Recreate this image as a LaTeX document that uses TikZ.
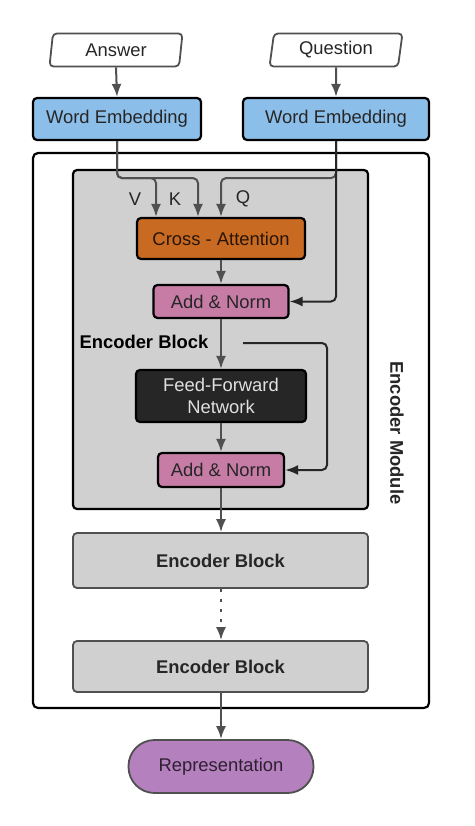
\documentclass[tikz,border=0pt]{standalone}
\usepackage{fontspec}
\setmainfont{Liberation Sans}
\usetikzlibrary{arrows.meta, shapes.geometric}
\definecolor{embblue}{RGB}{140,190,234}
\definecolor{attnorange}{RGB}{200,106,34}
\definecolor{normpink}{RGB}{199,124,166}
\definecolor{reppurple}{RGB}{180,128,190}
\definecolor{blockgray}{RGB}{208,208,208}
\definecolor{ffnblack}{RGB}{38,38,38}
\definecolor{linegray}{RGB}{80,80,80}
\tikzset{
    >={Latex[length=13pt, width=10pt]},
    box/.style = {draw = black, line width = 2.2pt, rounded corners = 4pt, text = black!85,
        font = \fontsize{18.4}{22}\selectfont, align = center, inner sep = 0pt},
    inputbox/.style = {trapezium, trapezium left angle = 75, trapezium right angle = 105,
        trapezium stretches body = true, draw = linegray, line width = 1.8pt, rounded corners = 4pt,
        minimum width = 133pt, minimum height = 33pt, text = black!85,
        font = \fontsize{18.4}{22}\selectfont, inner sep = 0pt},
    graybox/.style = {box, draw = linegray, line width = 1.8pt, fill = blockgray, font = \fontsize{18.4}{22}\selectfont\bfseries},
    flow/.style = {draw = linegray, line width = 2pt, ->, rounded corners = 5pt},
}

\begin{document}
\begin{tikzpicture}[x = 1pt, y = -1pt]
\useasboundingbox (0,0) rectangle (474,826);
% inputs
\node (ans) [inputbox] at (116,50) {Answer};
\node (qst) [inputbox] at (336,50) {Question};
\node (emba) [box, fill = embblue, minimum width = 168pt, minimum height = 42pt] at (117,119) {Word Embedding};
\node (embq) [box, fill = embblue, minimum width = 186pt, minimum height = 42pt] at (336,119) {Word Embedding};
% containers
\node (module) [draw = black, line width = 2.2pt, rounded corners = 5pt, minimum width = 396pt, minimum height = 555pt] at (231,430.5) {};
\node (block) [box, fill = blockgray, minimum width = 295pt, minimum height = 339pt] at (220.5,339.5) {};
\node[anchor = west, font = \fontsize{18.4}{22}\selectfont\bfseries] at (76,342) {Encoder Block};
\node[rotate = -90, font = \fontsize{18.4}{22}\selectfont\bfseries, text = black!85] at (397,433) {Encoder Module};
% encoder block
\node (ca) [box, fill = attnorange, text = black!80!attnorange, minimum width = 168pt, minimum height = 41pt] at (221,238.5) {Cross - Attention};
\node (an1) [box, fill = normpink, minimum width = 135pt, minimum height = 33pt] at (221,301.5) {Add \& Norm};
\node (ffn) [box, fill = ffnblack, text = black!12, minimum width = 170pt, minimum height = 52pt] at (221,396) {Feed-Forward\\Network};
\node (an2) [box, fill = normpink, minimum width = 126pt, minimum height = 34pt] at (221,470) {Add \& Norm};
\coordinate (skip) at (243,343);
% stacked blocks
\node (eb2) [graybox, minimum width = 295pt, minimum height = 55pt] at (220.5,560.5) {Encoder Block};
\node (eb3) [graybox, minimum width = 295pt, minimum height = 51pt] at (220.5,666.5) {Encoder Block};
\node (rep) [draw = linegray, line width = 1.8pt, fill = reppurple, rounded corners = 26pt, minimum width = 185pt, minimum height = 53pt,
    text = black!75!reppurple, font = \fontsize{18.4}{22}\selectfont] at (221,766.5) {Representation};
% connectors
\draw[flow] (ans.south) -- (emba.north);
\draw[flow] (qst.south) -- (embq.north);
\draw[flow] (emba.south) -- ++(0,37) -| ([xshift = -65pt]ca.north);
\draw[flow] (emba.south) -- ++(0,37) -| ([xshift = -23pt]ca.north);
\draw[flow] (embq.south) -- ++(0,37) -| (ca.north);
\draw[flow, draw = black!85] (embq.south) |- (an1.east);
\node[font = \fontsize{18.4}{22}\selectfont, text = black!85] at (135,199) {V};
\node[font = \fontsize{18.4}{22}\selectfont, text = black!85] at (175,199) {K};
\node[font = \fontsize{18.4}{22}\selectfont, text = black!85] at (243,199) {Q};
\draw[flow] (ca.south) -- (an1.north);
\draw[flow] (an1.south) -- (ffn.north);
\draw[flow] (ffn.south) -- (an2.north);
\draw[flow, draw = black!85] (skip) -- ++(84,0) |- (an2.east);
\draw[flow] (an2.south) -- (an2.south |- eb2.north);
\draw[flow, dash pattern = on 3pt off 7pt] (eb2.south -| an2.south) -- (eb3.north -| an2.south);
\draw[flow] (eb3.south -| an2.south) -- (rep.north);
\end{tikzpicture}
\end{document}
